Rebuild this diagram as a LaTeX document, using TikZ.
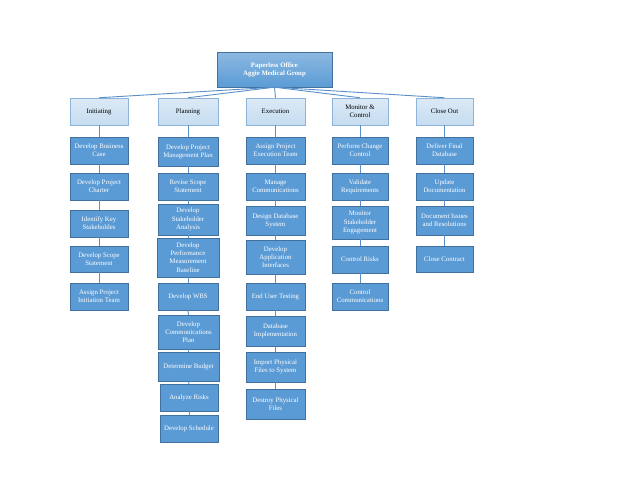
\documentclass[tikz,border=0pt]{standalone}
\usepackage{fontspec}
\setmainfont{Liberation Serif}
\definecolor{cb}{HTML}{5B9BD5}
\definecolor{cbd}{HTML}{41719C}
\definecolor{ch}{HTML}{C5DCF0}
\definecolor{chd}{HTML}{8FB4DA}
\definecolor{ln}{HTML}{5B8FC9}
\newcommand{\bx}[7]{\node[#1,minimum width={(#4-#2)*1pt},minimum height={(#5-#3)*1pt}] (#6) at ({(#2+#4)/2},{(#3+#5)/2}) {#7};}
\begin{document}
\begin{tikzpicture}[x=1pt,y=-1pt,
  base/.style={inner sep=1pt,align=center,font=\fontsize{6.8}{8.2}\selectfont},
  task/.style={base,draw=cbd,fill=cb,text=white,line width=0.5pt},
  head/.style={base,draw=chd,top color=ch!60!white,bottom color=ch,text=black,line width=0.5pt},
  root/.style={base,draw=cbd,top color=cb!70!white,bottom color=cb,text=white,font=\bfseries\fontsize{6.8}{8.2}\selectfont},
  con/.style={draw=ln,line width=0.9pt}]
\useasboundingbox (0,0) rectangle (638,493);
\fill[white] (0,0) rectangle (638,493);
\bx{root}{217}{52}{332}{87}{root}{Paperless Office\\Aggie Medical Group}
\bx{head}{70}{98}{128}{125}{h1}{Initiating}
\bx{head}{158}{98}{218}{125}{h2}{Planning}
\bx{head}{246}{98}{305}{125}{h3}{Execution}
\bx{head}{332}{98}{388}{125}{h4}{Monitor \&\\Control}
\bx{head}{416}{98}{473}{125}{h5}{Close Out}
% Initiating
\bx{task}{70}{137}{128}{164}{a1}{Develop Business\\Case}
\bx{task}{70}{173}{128}{200}{a2}{Develop Project\\Charter}
\bx{task}{70}{210}{128}{237}{a3}{Identify Key\\Stakeholdes}
\bx{task}{70}{246}{128}{272}{a4}{Develop Scope\\Statement}
\bx{task}{70}{283}{128}{310}{a5}{Assign Project\\Initiation Team}
% Planning
\bx{task}{158}{137}{218}{166}{b1}{Develop Project\\Management Plan}
\bx{task}{158}{173}{218}{200}{b2}{Revise Scope\\Statement}
\bx{task}{158}{204}{218}{235}{b3}{Develop\\Stakeholder\\Analysis}
\bx{task}{157}{238}{219}{277}{b4}{Develop\\Performance\\Measurement\\Baseline}
\bx{task}{158}{283}{218}{310}{b5}{Develop WBS}
\bx{task}{158}{315}{219}{349}{b6}{Develop\\Communications\\Plan}
\bx{task}{158}{352}{219}{381}{b7}{Determine Budget}
\bx{task}{160}{384}{218}{411}{b8}{Analyze Risks}
\bx{task}{160}{415}{218}{442}{b9}{Develop Schedule}
% Execution
\bx{task}{246}{137}{305}{164}{c1}{Assign Project\\Execution Team}
\bx{task}{246}{173}{305}{200}{c2}{Manage\\Communications}
\bx{task}{246}{206}{305}{235}{c3}{Design Database\\System}
\bx{task}{246}{240}{305}{274}{c4}{Develop\\Application\\Interfaces}
\bx{task}{246}{283}{305}{310}{c5}{End User Testing}
\bx{task}{246}{316}{305}{346}{c6}{Database\\Implementation}
\bx{task}{246}{352}{305}{382}{c7}{Import Physical\\Files to System}
\bx{task}{246}{389}{305}{419}{c8}{Destroy Physical\\Files}
% Monitor
\bx{task}{332}{137}{388}{164}{d1}{Perform Change\\Control}
\bx{task}{332}{173}{388}{200}{d2}{Validate\\Requirements}
\bx{task}{332}{206}{388}{239}{d3}{Monitor\\Stakeholder\\Engagement}
\bx{task}{332}{246}{388}{273}{d4}{Control Risks}
\bx{task}{332}{283}{388}{310}{d5}{Control\\Communications}
% Close
\bx{task}{416}{137}{473}{164}{e1}{Deliver Final\\Database}
\bx{task}{416}{173}{473}{200}{e2}{Update\\Documentation}
\bx{task}{416}{206}{473}{235}{e3}{Document Issues\\and Resolutions}
\bx{task}{416}{246}{473}{272}{e4}{Close Contract}
\begin{scope}[on background layer/.style={}]
\foreach \h in {h1,h2,h3,h4,h5} \draw[con] (root.south) -- (\h.north);
\foreach \a/\b in {h1/a1,a1/a2,a2/a3,a3/a4,a4/a5,
  h2/b1,b1/b2,b2/b3,b3/b4,b4/b5,b5/b6,b6/b7,b7/b8,b8/b9,
  h3/c1,c1/c2,c2/c3,c3/c4,c4/c5,c5/c6,c6/c7,c7/c8,
  h4/d1,d1/d2,d2/d3,d3/d4,d4/d5,
  h5/e1,e1/e2,e2/e3,e3/e4}
  \draw[con] (\a.south) -- (\b.north);
\end{scope}
\end{tikzpicture}
\end{document}
